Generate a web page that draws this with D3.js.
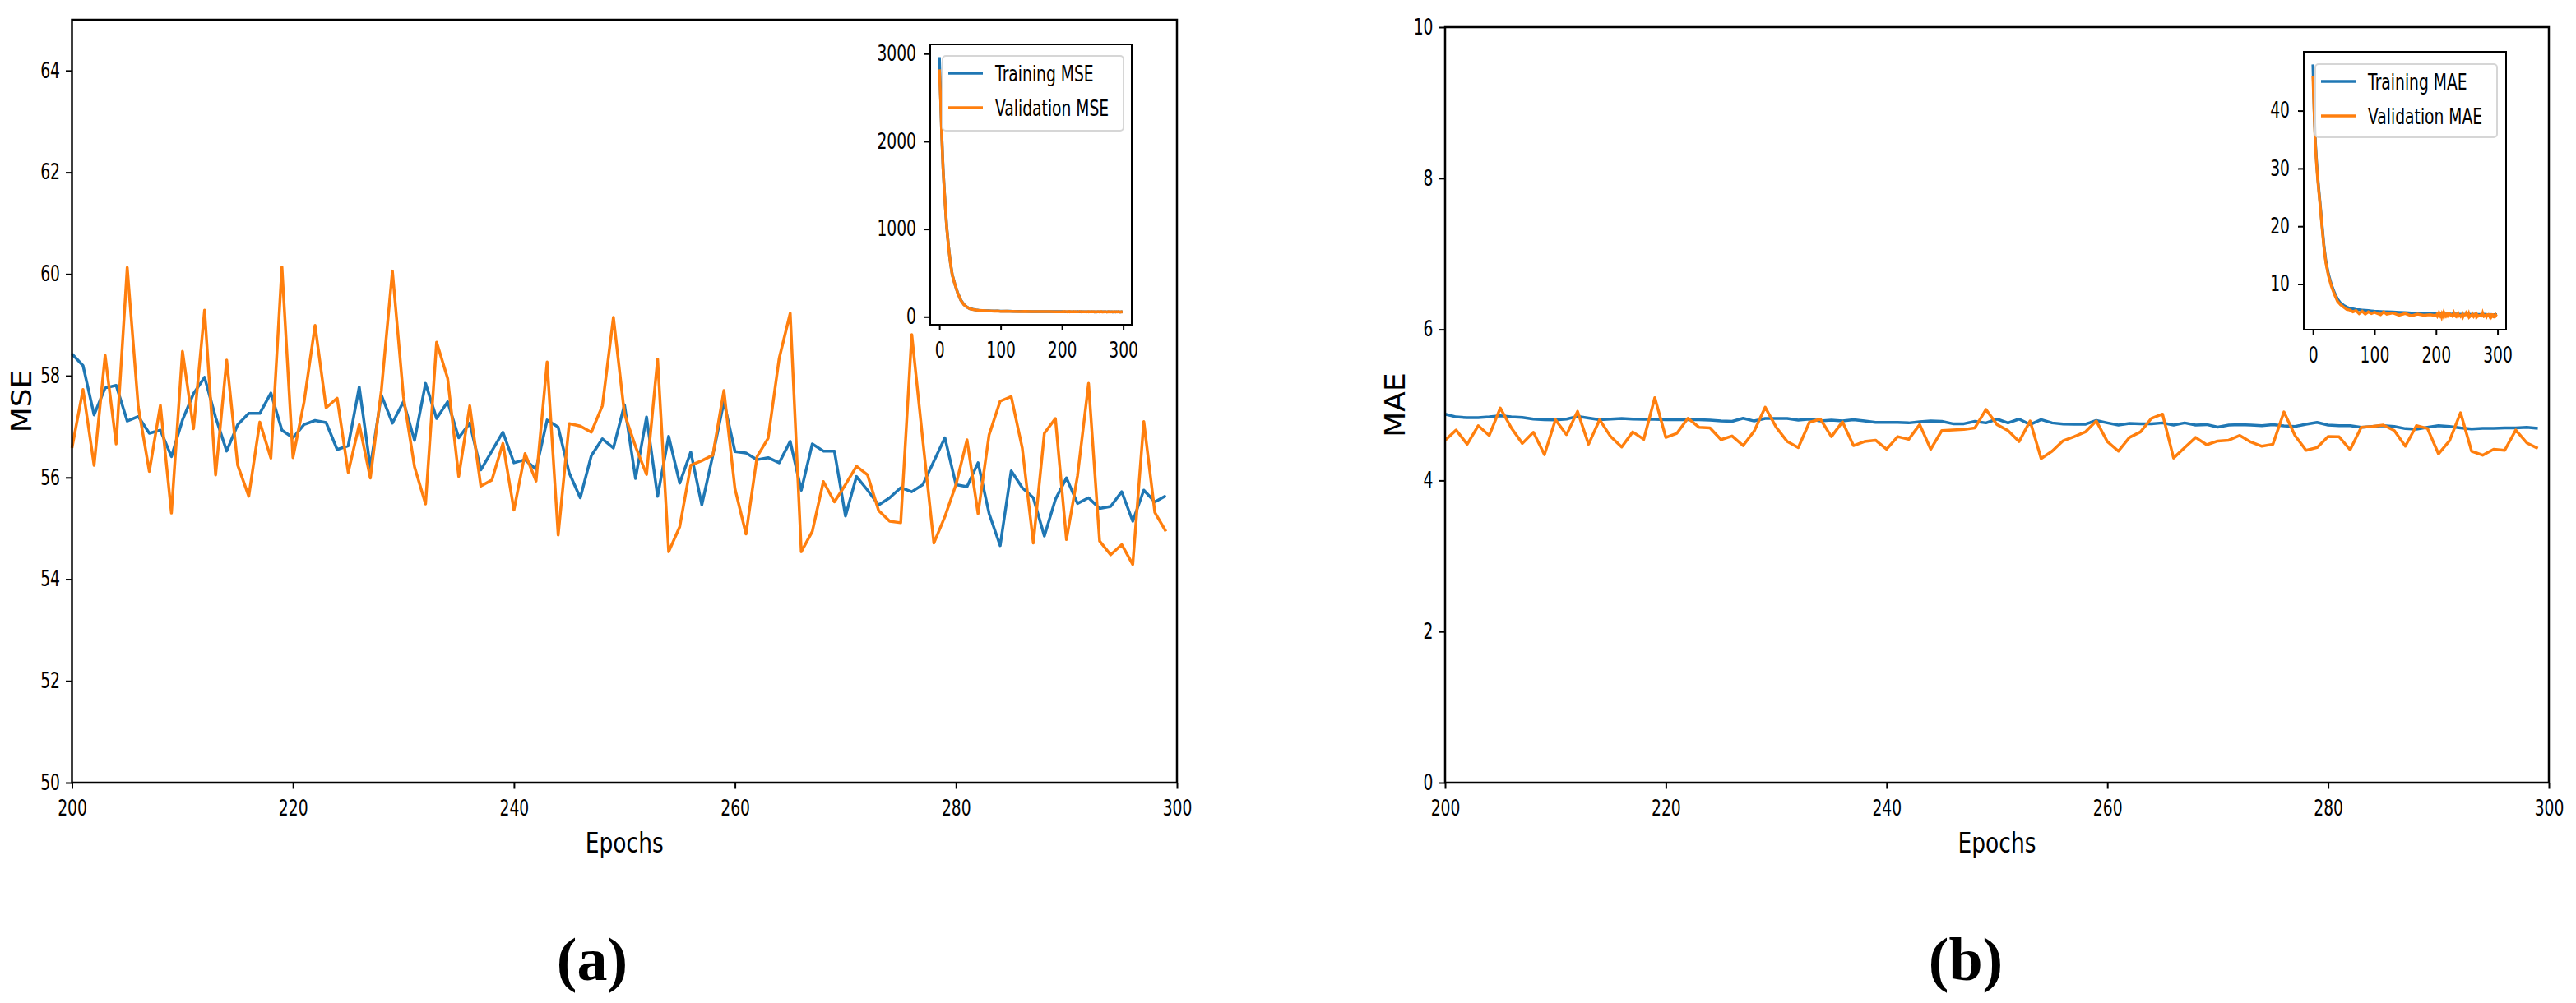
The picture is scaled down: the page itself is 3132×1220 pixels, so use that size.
<!DOCTYPE html>
<html lang="en">
<head>
<meta charset="UTF-8">
<title>Training and validation MSE / MAE</title>
<script src="https://cdn.jsdelivr.net/npm/d3@7"></script>
<style>
  html, body { margin: 0; padding: 0; background: #fff; }
  svg { display: block; font-family: "DejaVu Sans", sans-serif; }
  .domain { display: none; }
</style>
</head>
<body>
<svg id="chart" width="3132" height="1220"></svg>
<script>
// epochs 200..299 are shown in the main panels
const firstEpoch = 200;

const mseTrain = [58.43, 58.20, 57.23, 57.76, 57.81, 57.11, 57.20, 56.87, 56.93, 56.41,
  57.13, 57.65, 57.97, 57.18, 56.52, 57.04, 57.26, 57.26, 57.66, 56.93,
  56.78, 57.04, 57.12, 57.08, 56.55, 56.62, 57.78, 56.20, 57.62, 57.07,
  57.49, 56.73, 57.85, 57.16, 57.49, 56.78, 57.07, 56.15, 56.52, 56.89,
  56.29, 56.35, 56.16, 57.13, 56.99, 56.09, 55.60, 56.43, 56.76, 56.58,
  57.43, 55.98, 57.19, 55.63, 56.81, 55.89, 56.50, 55.46, 56.44, 57.49,
  56.51, 56.48, 56.35, 56.39, 56.29, 56.71, 55.75, 56.66, 56.52, 56.52,
  55.24, 56.02, 55.75, 55.46, 55.60, 55.80, 55.72, 55.86, 56.32, 56.78,
  55.86, 55.82, 56.29, 55.29, 54.66, 56.13, 55.80, 55.60, 54.85, 55.57,
  55.99, 55.49, 55.60, 55.39, 55.43, 55.72, 55.14, 55.75, 55.52, 55.64];

const mseVal = [56.58, 57.73, 56.24, 58.40, 56.66, 60.13, 57.39, 56.12, 57.42, 55.30,
  58.48, 56.96, 59.29, 56.05, 58.31, 56.24, 55.63, 57.09, 56.38, 60.14,
  56.39, 57.48, 58.99, 57.37, 57.56, 56.10, 57.04, 55.99, 57.71, 60.06,
  57.59, 56.21, 55.48, 58.66, 57.95, 56.02, 57.41, 55.83, 55.95, 56.67,
  55.36, 56.47, 55.93, 58.27, 54.87, 57.06, 57.01, 56.89, 57.41, 59.15,
  57.25, 56.61, 56.06, 58.33, 54.54, 55.03, 56.24, 56.33, 56.44, 57.71,
  55.78, 54.89, 56.41, 56.77, 58.34, 59.23, 54.54, 54.94, 55.92, 55.52,
  55.86, 56.22, 56.05, 55.35, 55.14, 55.11, 58.81, 56.73, 54.71, 55.23,
  55.86, 56.74, 55.29, 56.84, 57.50, 57.59, 56.58, 54.71, 56.87, 57.16,
  54.78, 56.03, 57.85, 54.75, 54.48, 54.68, 54.29, 57.10, 55.31, 54.94];

const maeTrain = [4.878, 4.841, 4.831, 4.831, 4.841, 4.856, 4.841, 4.834, 4.812, 4.805,
  4.802, 4.812, 4.849, 4.827, 4.805, 4.812, 4.820, 4.812, 4.809, 4.809,
  4.805, 4.805, 4.805, 4.805, 4.798, 4.787, 4.783, 4.823, 4.787, 4.820,
  4.820, 4.820, 4.798, 4.812, 4.787, 4.798, 4.787, 4.805, 4.787, 4.769,
  4.769, 4.769, 4.762, 4.776, 4.787, 4.783, 4.751, 4.751, 4.783, 4.762,
  4.812, 4.762, 4.812, 4.740, 4.805, 4.762, 4.747, 4.744, 4.744, 4.794,
  4.762, 4.733, 4.754, 4.751, 4.751, 4.762, 4.733, 4.762, 4.733, 4.740,
  4.707, 4.733, 4.740, 4.733, 4.725, 4.740, 4.722, 4.715, 4.744, 4.769,
  4.733, 4.725, 4.725, 4.704, 4.715, 4.725, 4.715, 4.686, 4.678, 4.704,
  4.725, 4.715, 4.696, 4.682, 4.689, 4.689, 4.696, 4.696, 4.704, 4.689];

const maeVal = [4.533, 4.667, 4.479, 4.725, 4.595, 4.958, 4.696, 4.490, 4.638, 4.341,
  4.805, 4.606, 4.914, 4.479, 4.805, 4.580, 4.443, 4.642, 4.544, 5.095,
  4.569, 4.624, 4.823, 4.704, 4.696, 4.540, 4.588, 4.461, 4.653, 4.968,
  4.704, 4.515, 4.435, 4.769, 4.812, 4.580, 4.776, 4.461, 4.515, 4.533,
  4.413, 4.580, 4.544, 4.740, 4.413, 4.660, 4.667, 4.675, 4.696, 4.939,
  4.740, 4.660, 4.515, 4.787, 4.290, 4.388, 4.526, 4.580, 4.642, 4.787,
  4.515, 4.388, 4.569, 4.642, 4.823, 4.878, 4.297, 4.435, 4.569, 4.472,
  4.522, 4.533, 4.595, 4.508, 4.453, 4.479, 4.907, 4.595, 4.399, 4.435,
  4.580, 4.577, 4.406, 4.704, 4.715, 4.733, 4.660, 4.453, 4.725, 4.689,
  4.352, 4.526, 4.896, 4.388, 4.334, 4.413, 4.399, 4.667, 4.497, 4.424];

// early epochs
const earlyEpochs = [0, 2, 4, 6, 8, 10, 12, 15, 18, 21, 25, 30, 35, 40, 45, 50, 55, 60,
  65, 70, 75, 80, 85, 90, 95, 100, 110, 115, 120, 130, 140, 150, 160, 170, 180, 190];
const mseTrainEarly = [2960, 2500, 2050, 1700, 1450, 1230, 1020, 800, 620, 480, 380, 270,
  190, 140, 110, 92, 84, 78, 74, 71, 69, 68, 67, 66, 65, 64, 63, 63, 62, 62, 61, 60, 60, 59, 59, 58];
const mseValEarly = [2820, 2480, 2040, 1690, 1440, 1225, 1015, 795, 615, 478, 378, 268,
  189, 139, 109, 91, 83, 77, 72, 70, 68, 66, 67, 64, 65, 62, 63, 61, 62, 60, 61, 59, 60, 58, 59, 57];
const maeTrainEarly = [48.0, 40.0, 34.5, 31.0, 28.2, 25.8, 23.5, 20.0, 16.5, 14.0, 11.8, 9.9,
  8.5, 7.4, 6.7, 6.3, 6.0, 5.8, 5.7, 5.6, 5.55, 5.5, 5.45, 5.4, 5.35, 5.3, 5.25, 5.2, 5.2,
  5.15, 5.1, 5.05, 5.0, 4.97, 4.93, 4.9];
const maeValEarly = [46.0, 39.5, 34.0, 30.5, 27.8, 25.5, 23.2, 19.6, 16.2, 13.7, 11.5, 9.6,
  8.2, 7.0, 6.4, 6.0, 5.6, 5.5, 5.2, 5.4, 4.9, 5.3, 4.8, 5.2, 4.9, 5.1, 4.7, 5.2, 4.8,
  5.0, 4.6, 4.9, 4.5, 4.8, 4.6, 4.7];

const epochTicks = [200, 220, 240, 260, 280, 300];
const mseTicks = [50, 52, 54, 56, 58, 60, 62, 64];
const maeTicks = [0, 2, 4, 6, 8, 10];
const insetEpochTicks = [0, 100, 200, 300];
const insetMseTicks = [0, 1000, 2000, 3000];
const insetMaeTicks = [10, 20, 30, 40];

const trainColor = "#1f77b4";
const valColor = "#ff7f0e";
const SX = 0.72; // the source figure is squeezed horizontally

const svg = d3.select("#chart");

// squeeze d3-made tick labels without moving them
function squeeze(sel, sx) {
  sel.each(function() {
    const t = d3.select(this);
    const x = +t.attr("x") || 0;
    t.attr("x", x / sx).attr("transform", `scale(${sx},1)`);
  });
}

function label(parent, x, y, str, size, sx, anchor) {
  return parent.append("g").attr("transform", `translate(${x},${y})`)
    .append("text")
    .attr("transform", `scale(${sx},1)`)
    .attr("text-anchor", anchor || "middle")
    .attr("font-size", size)
    .attr("fill", "#000")
    .text(str);
}

function withEarly(early, epochs, late) {
  return epochs.map((e, i) => [e, early[i]])
    .concat(late.map((v, i) => [firstEpoch + i, v]));
}

function drawPanel(p) {
  const g = svg.append("g");
  const x = d3.scaleLinear().domain([200, 300]).range([p.left, p.right]);
  const y = d3.scaleLinear().domain(p.yDomain).range([p.bottom, p.top]);

  const xa = g.append("g").attr("transform", `translate(0,${p.bottom})`)
    .call(d3.axisBottom(x).tickValues(epochTicks).tickFormat(d3.format("d"))
      .tickSize(7.5).tickSizeOuter(0));
  const ya = g.append("g").attr("transform", `translate(${p.left},0)`)
    .call(d3.axisLeft(y).tickValues(p.yTicks).tickFormat(d3.format("d"))
      .tickSize(7.5).tickPadding(7).tickSizeOuter(0));
  [xa, ya].forEach(a => {
    a.selectAll("line").attr("stroke", "#000").attr("stroke-width", 2);
    a.selectAll("text").attr("font-size", 26).attr("fill", "#000")
      .attr("font-family", "DejaVu Sans");
  });
  xa.selectAll("text").attr("y", 40).attr("dy", null);
  squeeze(xa.selectAll("text"), SX);
  squeeze(ya.selectAll("text"), SX);

  const line = d3.line().x((d, i) => x(firstEpoch + i)).y(d => y(d));
  g.append("path").datum(p.train).attr("d", line)
    .attr("fill", "none").attr("stroke", trainColor).attr("stroke-width", 3.5)
    .attr("stroke-linejoin", "round");
  g.append("path").datum(p.val).attr("d", line)
    .attr("fill", "none").attr("stroke", valColor).attr("stroke-width", 3.5)
    .attr("stroke-linejoin", "round");

  g.append("rect")
    .attr("x", p.left).attr("y", p.top)
    .attr("width", p.right - p.left).attr("height", p.bottom - p.top)
    .attr("fill", "none").attr("stroke", "#000").attr("stroke-width", 2.5);

  label(g, (p.left + p.right) / 2, 1037, "Epochs", 34, 0.78);
  g.append("g").attr("transform", `translate(${p.ylabelX},${(p.top + p.bottom) / 2})`)
    .append("text")
    .attr("transform", `scale(0.92,1) rotate(-90)`)
    .attr("text-anchor", "middle").attr("dy", "0.36em")
    .attr("font-size", 36).text(p.ylabel);

  svg.append("text")
    .attr("x", p.captionX).attr("y", 1192)
    .attr("text-anchor", "middle")
    .attr("font-family", "'Liberation Serif', serif")
    .attr("font-weight", "bold").attr("font-size", 74)
    .text(p.caption);

  drawInset(p.inset);
}

function drawInset(q) {
  const g = svg.append("g");
  const trainPts = withEarly(q.trainEarly, earlyEpochs, q.train);
  const valPts = withEarly(q.valEarly, earlyEpochs, q.val);
  const ext = d3.extent(trainPts.concat(valPts), d => d[1]);
  const pad = (ext[1] - ext[0]) * 0.05;
  const x = d3.scaleLinear().domain([-0.05 * 299, 299 * 1.05]).range([q.left, q.right]);
  const y = d3.scaleLinear().domain([ext[0] - pad, ext[1] + pad]).range([q.bottom, q.top]);

  g.append("rect").attr("x", q.left).attr("y", q.top)
    .attr("width", q.right - q.left).attr("height", q.bottom - q.top)
    .attr("fill", "#fff");

  const xa = g.append("g").attr("transform", `translate(0,${q.bottom})`)
    .call(d3.axisBottom(x).tickValues(insetEpochTicks).tickFormat(d3.format("d"))
      .tickSize(7).tickSizeOuter(0));
  const ya = g.append("g").attr("transform", `translate(${q.left},0)`)
    .call(d3.axisLeft(y).tickValues(q.yTicks).tickFormat(d3.format("d"))
      .tickSize(7).tickPadding(10).tickSizeOuter(0));
  [xa, ya].forEach(a => {
    a.selectAll("line").attr("stroke", "#000").attr("stroke-width", 2);
    a.selectAll("text").attr("font-size", 26).attr("fill", "#000")
      .attr("font-family", "DejaVu Sans");
  });
  xa.selectAll("text").attr("y", 40).attr("dy", null);
  squeeze(xa.selectAll("text"), SX);
  squeeze(ya.selectAll("text"), SX);

  const line = d3.line().x(d => x(d[0])).y(d => y(d[1]));
  g.append("path").datum(trainPts).attr("d", line)
    .attr("fill", "none").attr("stroke", trainColor).attr("stroke-width", 3.5);
  g.append("path").datum(valPts).attr("d", line)
    .attr("fill", "none").attr("stroke", valColor).attr("stroke-width", 3.5);

  g.append("rect").attr("x", q.left).attr("y", q.top)
    .attr("width", q.right - q.left).attr("height", q.bottom - q.top)
    .attr("fill", "none").attr("stroke", "#000").attr("stroke-width", 2);

  // legend
  const lg = g.append("g").attr("transform", `translate(${q.legend[0]},${q.legend[1]})`);
  lg.append("rect").attr("width", q.legend[2]).attr("height", q.legend[3])
    .attr("rx", 4).attr("fill", "#fff").attr("fill-opacity", 0.8)
    .attr("stroke", "#d6d6d6").attr("stroke-width", 2);
  [[trainColor, q.names[0]], [valColor, q.names[1]]].forEach((d, i) => {
    const cy = 21 + i * 42;
    lg.append("line").attr("x1", 7).attr("x2", 49).attr("y1", cy).attr("y2", cy)
      .attr("stroke", d[0]).attr("stroke-width", 3.5);
    label(lg, 64, cy + 9.5, d[1], 26, SX, "start");
  });
}

drawPanel({
  left: 87.5, right: 1431, top: 24, bottom: 952,
  yDomain: [50, 65], yTicks: mseTicks,
  train: mseTrain, val: mseVal,
  ylabel: "MSE", ylabelX: 26,
  caption: "(a)", captionX: 720,
  inset: {
    left: 1131, right: 1376, top: 54, bottom: 395,
    yTicks: insetMseTicks,
    train: mseTrain, val: mseVal,
    trainEarly: mseTrainEarly, valEarly: mseValEarly,
    names: ["Training MSE", "Validation MSE"],
    legend: [1146, 68, 220, 91]
  }
});

drawPanel({
  left: 1757, right: 3099, top: 33, bottom: 952,
  yDomain: [0, 10], yTicks: maeTicks,
  train: maeTrain, val: maeVal,
  ylabel: "MAE", ylabelX: 1696,
  caption: "(b)", captionX: 2390,
  inset: {
    left: 2801, right: 3047, top: 63, bottom: 401,
    yTicks: insetMaeTicks,
    train: maeTrain, val: maeVal,
    trainEarly: maeTrainEarly, valEarly: maeValEarly,
    names: ["Training MAE", "Validation MAE"],
    legend: [2815, 78, 221, 89]
  }
});
</script>
</body>
</html>
